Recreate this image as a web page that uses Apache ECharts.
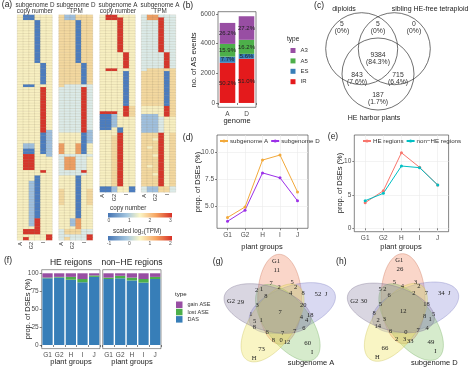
<!DOCTYPE html>
<html><head><meta charset="utf-8">
<script src="https://cdn.jsdelivr.net/npm/echarts@6/dist/echarts.min.js"></script>
<style>html,body{margin:0;padding:0;background:#fff}#c{width:474px;height:374px}</style>
</head><body><div id="c"></div>
<script>
// ---------- DATA ----------
const hmCols = ['A','G1','G2','H','I','J'];
// level codes: 0 blue .. 3 pale yellow .. 6 red
const hmDcopy = [
"300333","300333",
"333033","333033","333033","333033","333033","333033","333033","333033",
"333033","333033","333033","333033","333033","333033","333033","333033",
"333303","333303","333303","333303","333303","333303","333303","333303",
"300333",
"333363","333363","333363","333363","333363","333363","333363","333363",
"333363","333363","333363","333363","333363","333363","333363","333363",
"333361","333301","333301","333301","333301",
"311301","311301","300301","300301",
"366331","366333","366333","366333","366333","366333",
"333363","333333","333033","333033",
"331033","331033","331033","331033","331033","331033","331033",
"331033","331033","331033","331033","331033","331033","331033",
"331633","331633","331633","333633",
"366633","366633","333336","363336"];
const hmDtpm = [
"411444","411444",
"444044","444044","444044","444044","444044","444044","444044","444044",
"444044","444044","444044","444044","444044","444044","444044","444044",
"444404","444404","444404","444404","444404","444404","444404","444404",
"422222",
"222262","222262","222262","222262","222262","222262","222262","222262",
"222262","222262","222262","222262","222262","222262","222262","222262",
"222261","333301","333301","333301","333301",
"533503","533503","533503","533503",
"222222","255223","255223","255223","255223","255223",
"222263","222223",
"333033","333033","333033","333033","333033",
"433034","433034","433034","433034","433034","433034",
"333033","333033","333033","333033","333033",
"331533","331533","331533","333533",
"244422","244422","222226","242226"];
const hmAcopy = [
"366333","366633",
"333633","333633","333633","333633","333633","333633",
"333633","333633","333633","333633","333633","333633",
"333363","333363","333363","333363","333363","333363",
"366333",
"333303","333303","333303","333303","333303","333303","333303",
"333303","333303","333303","333303","333303","333303",
"333364","333364","666364","001364",
"001333","001333","001333","001333",
"003033","333033","333633",
"334633","334633","334633","334633","334633","334633","334633",
"334633","334633","334633","334633","334633","334633","334633",
"334633","334633","334633","334633","334633",
"001330","001330"];
const hmAtpm = [
"255222","255622",
"222622","222622","222622","222622","222622","222622",
"222622","222622","222622","222622","222622","222622",
"222262","222262","222262","222262","222262","222262",
"244444",
"444404","444404","444404","444404","444404","444404","444404",
"444404","444404","444404","444404","444404","444404",
"333364","333364","333364","111364",
"111233","111233","111233","111233","111233","111233",
"444634","444634","443634","444634","444634","434634","444634",
"444634","443634","444634","444634","444634","434634","444634",
"444634","443634","444634","444634","444634","444634",
"211442","211442"];

const genomes = ['A','D'];
const asTypes = ['A3','A5','ES','IR'];
const asCountA = [1415, 859, 416, 2711];
const asCountD = [1591, 948, 328, 2984];
const asPctA = ['26.2%','15.9%','7.7%','50.2%'];
const asPctD = ['27.2%','16.2%','5.6%','51.0%'];
const asTicks = [0, 2000, 4000, 6000];

const vennSets = ['diploids','sibling HE-free tetraploid','HE harbor plants'];
const vennCounts = [5, 5, 0, 9384, 843, 715, 187];
const vennPcts = ['0%','0%','0%','84.3%','7.6%','6.4%','1.7%'];

const plantGroups = ['G1','G2','H','I','J'];
const dsesSubA = [3.95, 4.93, 9.29, 9.76, 6.33];
const dsesSubD = [3.6, 4.63, 8.1, 7.64, 5.5];
const dsesHE = [3.82, 5.6, 11.28, 9.1, 6.46];
const dsesNonHE = [4.12, 5.22, 9.3, 9.05, 6.46];
const dTicks = [5, 7.5, 10];
const eTicks = [0, 5, 10];

const fTypes = ['gain ASE','lost ASE','DAS'];
const heDAS = [93, 94, 91, 87.5, 95];
const heLost = [1, 1, 4, 4.5, 2];
const heGain = [6, 5, 5, 8, 3];
const nonDAS = [92, 93, 90, 87, 92];
const nonLost = [2, 3.5, 4, 5, 3];
const nonGain = [6, 3.5, 6, 8, 5];
const fTicks = [0, 25, 50, 75, 100];

const venn5Sets = ['G1','J','I','H','G2'];
const venn5OuterG = [11, 52, 60, 73, 29];
const venn5OuterH = [26, 34, 49, 66, 30];
const venn5InnerG = [7,2,5,2,2,1,8,4,8,20,3,7,4,18,4,1,5,1,8,6,7,7,6,8,0,12];
const venn5InnerH = [5,4,3,2,5,2,6,2,7,18,5,12,8,5,1,8,2,3,14,6,0,7,4,2,3,33];

// ---------- RENDER ----------
const SANS = '"Liberation Sans", Arial, sans-serif';
const SERIF = '"Liberation Serif", "Times New Roman", serif';
const chart = echarts.init(document.getElementById('c'), null, {renderer:'canvas'});
const gText = (x, y, text, o) => ({type:'text', x, y, silent:true, z:10,
  style:Object.assign({text, fontSize:7, fontFamily:SANS, fill:'#222', textAlign:'center', textVerticalAlign:'middle'}, o||{})});
const levelColors = ['#4a7cc0','#9fc0df','#dcebe9','#f8f0c2','#f4d9a0','#ee9e63','#d7342a'];

function hmData(rows){ const d=[]; rows.forEach((s,r)=>{ for(let c=0;c<s.length;c++) d.push([c, r, +s[c]]); }); return d; }

const hmGrids = [
  {left:17.5, top:15, width:34.5, height:225},
  {left:59, top:15, width:33.5, height:225},
  {left:100, top:15, width:35, height:177},
  {left:141.5, top:15, width:34, height:177}
];
const hmSets = [hmDcopy, hmDtpm, hmAcopy, hmAtpm];
const grids = hmGrids.concat([
  {left:218, top:11.7, width:38, height:95.6, show:true, borderColor:'#333', borderWidth:0.6, backgroundColor:'transparent'},
  {left:217, top:135, width:91, height:93.3, show:true, borderColor:'#333', borderWidth:0.6, backgroundColor:'transparent'},
  {left:354.3, top:135, width:94.3, height:96.7, show:true, borderColor:'#333', borderWidth:0.6, backgroundColor:'transparent'},
  {left:41.7, top:269.7, width:58.3, height:78.9, show:true, borderColor:'#555', borderWidth:0.6, backgroundColor:'transparent'},
  {left:102.7, top:269.7, width:58.3, height:78.9, show:true, borderColor:'#555', borderWidth:0.6, backgroundColor:'transparent'}
]).map(g => Object.assign({containLabel:false, outerBoundsMode:'none'}, g));

const labStyle = {fontSize:6.5, color:'#4d4d4d', fontFamily:SANS};
const tickStyle = {lineStyle:{color:'#333', width:0.6}, length:2};
const xAxes = [], yAxes = [];
hmSets.forEach((rows, i) => {
  xAxes.push({gridIndex:i, type:'category', data:hmCols, axisLine:{show:false}, axisTick:{show:false},
    axisLabel:{rotate:90, fontSize:5.5, color:'#333', margin:2, fontFamily:SANS}, splitLine:{show:false}});
  yAxes.push({gridIndex:i, type:'category', data:rows.map((_,k)=>String(k)), inverse:true, show:false});
});
// (b)
xAxes.push({gridIndex:4, type:'category', data:genomes, axisLine:{show:false}, axisTick:Object.assign({show:true}, tickStyle),
  axisLabel:Object.assign({margin:3}, labStyle)});
yAxes.push({gridIndex:4, type:'value', min:-293, max:6158, axisLine:{show:false},
  axisTick:Object.assign({show:true, customValues:asTicks}, tickStyle),
  axisLabel:Object.assign({customValues:asTicks, formatter:v=>String(Math.round(v)), margin:3}, labStyle), splitLine:{show:false}});
// (d)
const xGroupAxis = gi => ({gridIndex:gi, type:'value', min:0.4, max:5.6, axisLine:{show:false},
  axisTick:Object.assign({show:true, customValues:[1,2,3,4,5]}, tickStyle),
  axisLabel:Object.assign({customValues:[1,2,3,4,5], formatter:v=>plantGroups[Math.round(v)-1], margin:3}, labStyle),
  splitLine:{show:true, lineStyle:{color:'#ebebeb', width:0.6}}});
xAxes.push(xGroupAxis(5));
yAxes.push({gridIndex:5, type:'value', min:2.95, max:11.62, axisLine:{show:false},
  axisTick:Object.assign({show:true, customValues:dTicks}, tickStyle),
  axisLabel:Object.assign({customValues:dTicks, formatter:v=>v.toFixed(1), margin:3}, labStyle),
  splitLine:{show:true, lineStyle:{color:'#ebebeb', width:0.6}}});
// (e)
xAxes.push(xGroupAxis(6));
yAxes.push({gridIndex:6, type:'value', min:-0.51, max:13.93, axisLine:{show:false},
  axisTick:Object.assign({show:true, customValues:eTicks}, tickStyle),
  axisLabel:Object.assign({customValues:eTicks, formatter:v=>String(Math.round(v)), margin:3}, labStyle),
  splitLine:{show:true, lineStyle:{color:'#ebebeb', width:0.6}}});
// (f)
[7,8].forEach((gi, k) => {
  xAxes.push({gridIndex:gi, type:'category', data:plantGroups, axisLine:{show:false}, axisTick:Object.assign({show:true}, tickStyle),
    axisLabel:Object.assign({margin:3}, labStyle)});
  yAxes.push({gridIndex:gi, type:'value', min:-5, max:105, axisLine:{show:false},
    axisTick:Object.assign({show:k===0, customValues:fTicks}, tickStyle),
    axisLabel:Object.assign({show:k===0, customValues:fTicks, formatter:v=>String(Math.round(v)), margin:3}, labStyle), splitLine:{show:false}});
});

const series = [];
hmSets.forEach((rows, i) => series.push({type:'heatmap', xAxisIndex:i, yAxisIndex:i, data:hmData(rows),
  itemStyle:{borderColor:'rgba(150,140,110,0.35)', borderWidth:0.4}, emphasis:{disabled:true}, silent:true}));
const asColors = {A3:'#984ea3', A5:'#4daf4a', ES:'#377eb8', IR:'#e41a1c'};
[3,2,1,0].forEach(k => series.push({type:'bar', name:asTypes[k], xAxisIndex:4, yAxisIndex:4, stack:'b',
  data:[asCountA[k], asCountD[k]], barCategoryGap:'18%', itemStyle:{color:asColors[asTypes[k]]},
  label:{show:true, position:'inside', fontSize:6, color:'#222', fontFamily:SANS,
    formatter:p => (p.dataIndex===0 ? asPctA[k] : asPctD[k])}}));
const lineS = (name, gi, vals, color) => ({type:'line', name, xAxisIndex:gi, yAxisIndex:gi,
  data:vals.map((v,i)=>[i+1, v]), symbol:'circle', symbolSize:3, color, lineStyle:{width:1, color}, itemStyle:{color}});
series.push(lineS('subgenome A', 5, dsesSubA, '#f2a93b'));
series.push(lineS('subgenome D', 5, dsesSubD, '#9b30e8'));
series.push(lineS('HE regions', 6, dsesHE, '#f8766d'));
series.push(lineS('non\u2212HE regions', 6, dsesNonHE, '#00bfc4'));
const fColors = {'gain ASE':'#984ea3', 'lost ASE':'#4daf4a', 'DAS':'#377eb8'};
[[7, heDAS, heLost, heGain], [8, nonDAS, nonLost, nonGain]].forEach(([gi, das, lost, gain]) => {
  [['DAS', das], ['lost ASE', lost], ['gain ASE', gain]].forEach(([nm, vals]) => series.push({type:'bar', name:nm,
    xAxisIndex:gi, yAxisIndex:gi, stack:'f'+gi, data:vals, barCategoryGap:'12%', itemStyle:{color:fColors[nm]}}));
});

// graphic
const G = [];
G.push(gText(7, 5, '(a)', {fontSize:8.5}));
[[35,'subgenome D','copy number'],[76,'subgenome D','TPM'],[118,'subgenome A','copy number'],[160,'subgenome A','TPM']].forEach(([x,a,b]) => {
  G.push(gText(x, 5, a, {fontSize:6.3, fill:'#333'}));
  G.push(gText(x, 11.5, b, {fontSize:6.3, fill:'#333'}));
});
const grad = stops => ({type:'linear', x:0, y:0, x2:1, y2:0, colorStops:stops});
const rdylbu = [{offset:0,color:'#4575b4'},{offset:0.3,color:'#a6c8e0'},{offset:0.5,color:'#fbf6c6'},{offset:0.75,color:'#f6a562'},{offset:1,color:'#d73027'}];
G.push(gText(110, 208.3, 'copy number', {fontSize:6.3, textAlign:'left', fill:'#333'}));
G.push({type:'rect', shape:{x:108, y:213, width:64, height:4.6}, style:{fill:grad(rdylbu)}, silent:true});
['0','1','2','3'].forEach((t,i) => G.push(gText(109 + i*20.5, 220.5, t, {fontSize:5, fill:'#555'})));
G.push(gText(113, 231.7, 'scaled log\u2082(TPM)', {fontSize:6.3, textAlign:'left', fill:'#333'}));
G.push({type:'rect', shape:{x:108, y:236, width:64, height:4.6}, style:{fill:grad(rdylbu)}, silent:true});
['-1','0','1','2'].forEach((t,i) => G.push(gText(109 + i*20.5, 243.5, t, {fontSize:5, fill:'#555'})));

// (b)
G.push(gText(188, 6, '(b)', {fontSize:8.5}));
G.push(gText(194, 60, 'no. of AS events', {fontSize:7.5}));
G[G.length-1].rotation = Math.PI/2;
G.push(gText(237, 121, 'genome', {fontSize:7.5}));
G.push(gText(287, 39, 'type', {fontSize:6.5, textAlign:'left'}));
// (c)
G.push(gText(319, 6, '(c)', {fontSize:8.5}));
[[361.7,48.7],[394.3,48.7],[378,74]].forEach(([cx,cy]) => G.push({type:'circle', shape:{cx, cy, r:36}, silent:true,
  style:{fill:'none', stroke:'#333', lineWidth:0.7}}));
G.push(gText(344, 9, vennSets[0], {fontSize:7}));
G.push(gText(430, 9, vennSets[1], {fontSize:7}));
G.push(gText(374, 118.5, vennSets[2], {fontSize:7}));
[[342,28],[378,28],[414,28],[378,58.5],[357,78.5],[398,78.5],[378,98.5]].forEach(([x,y],i) =>
  G.push(gText(x, y, vennCounts[i] + '\n(' + vennPcts[i] + ')', {fontSize:6.8, lineHeight:7, fill:'#333'})));
// (d),(e)
G.push(gText(188, 138, '(d)', {fontSize:8.5}));
G.push(gText(198, 182, 'prop. of DSEs (%)', {fontSize:7.5})); G[G.length-1].rotation = Math.PI/2;
G.push(gText(262, 247, 'plant groups', {fontSize:7.5}));
G.push(gText(333, 137, '(e)', {fontSize:8.5}));
G.push(gText(340, 183, 'prop. of DSEs (%)', {fontSize:7.5})); G[G.length-1].rotation = Math.PI/2;
G.push(gText(401, 247, 'plant groups', {fontSize:7.5}));
// (f)
G.push(gText(8, 261, '(f)', {fontSize:8.5}));
G.push(gText(71, 263, 'HE reigons', {fontSize:8.5}));
G.push(gText(132, 263, 'non\u2212HE regions', {fontSize:8.5}));
G.push(gText(28, 309, 'prop. of DSEs (%)', {fontSize:7.5})); G[G.length-1].rotation = Math.PI/2;
G.push(gText(71, 362, 'plant groups', {fontSize:7.5}));
G.push(gText(132, 362, 'plant groups', {fontSize:7.5}));
G.push(gText(175, 294.3, 'type', {fontSize:6.2, textAlign:'left'}));

// (g),(h) five-set Venn
function ellipsePts(cx, cy, a, b, deg){
  const t = deg*Math.PI/180, pts = [];
  for (let i=0;i<90;i++){ const u=i/90*2*Math.PI, x=a*Math.cos(u), y=b*Math.sin(u);
    pts.push([cx + x*Math.cos(t) - y*Math.sin(t), cy + x*Math.sin(t) + y*Math.cos(t)]); }
  return pts;
}
const ellDirs = [-91, -19, 53, 125, 197];
const ellFill = ['rgba(240,130,90,0.33)','rgba(140,140,215,0.33)','rgba(130,195,100,0.33)','rgba(240,230,100,0.38)','rgba(140,130,165,0.33)'];
const ellStroke = ['rgba(200,110,80,0.6)','rgba(120,120,190,0.6)','rgba(110,170,90,0.6)','rgba(200,190,80,0.6)','rgba(120,110,140,0.6)'];
const innerPos = [[-9,-29],[-1,-25],[12.2,-29.8],[15.5,-25.3],[-23.3,-22.4],[-18.5,-22.9],[-14.2,-16.5],[10.5,-18.9],[23,-18.9],
  [23.3,-7.5],[-23,-7.2],[0,0],[21.3,5],[30.3,2.7],[26.7,7.5],[-29.2,1.7],[-25.3,8.5],[-19,7.5],[-25.6,14.7],[-12.8,20],
  [2.5,20.8],[14.7,19],[23.8,16.3],[-6.6,27.5],[1.2,27.6],[7,29.6]];
const outerPos = [[-3.3,-42],[38,-18],[27.7,30.6],[-18.4,36.8],[-39.3,-10.3]];
const setLabPos = [[-4,-51],[46,-18.4],[32,39.5],[-26,46],[-49,-10.6]];
function venn5(C, outer, inner, letter, title){
  ellDirs.forEach((d,k) => {
    const r = d*Math.PI/180;
    G.push({type:'polygon', silent:true, shape:{points:ellipsePts(C[0]+13*Math.cos(r), C[1]+13*Math.sin(r), 45, 22, d)},
      style:{fill:ellFill[k], stroke:ellStroke[k], lineWidth:0.6}});
  });
  inner.forEach((v,i) => G.push(gText(C[0]+innerPos[i][0], C[1]+innerPos[i][1], String(v), {fontSize:6.5, fontFamily:SERIF})));
  outer.forEach((v,i) => G.push(gText(C[0]+outerPos[i][0], C[1]+outerPos[i][1], String(v), {fontSize:6.8, fontFamily:SERIF})));
  venn5Sets.forEach((s,i) => G.push(gText(C[0]+setLabPos[i][0], C[1]+setLabPos[i][1], s, {fontSize:6.5, fontFamily:SERIF})));
  G.push(gText(C[0]-62, 262, letter, {fontSize:8.5}));
  G.push(gText(C[0]+31, 363, title, {fontSize:7.5}));
}
venn5([280, 312.3], venn5OuterG, venn5InnerG, '(g)', 'subgenome A');
venn5([403.3, 311.7], venn5OuterH, venn5InnerH, '(h)', 'subgenome D');

const option = {
  animation:false,
  backgroundColor:'#fff',
  textStyle:{fontFamily:SANS},
  grid:grids, xAxis:xAxes, yAxis:yAxes,
  visualMap:{type:'piecewise', show:false, seriesIndex:[0,1,2,3], dimension:2,
    pieces:levelColors.map((c,i)=>({value:i, color:c}))},
  legend:[
    {data:asTypes, orient:'vertical', left:290.5, top:47.5, itemWidth:5, itemHeight:5, itemGap:4.4, icon:'rect',
      textStyle:{fontSize:6, color:'#333', fontFamily:SANS}, selectedMode:false, padding:0},
    {data:['subgenome A','subgenome D'], left:219, top:138, itemWidth:8, itemHeight:4, itemGap:2,
      textStyle:{fontSize:6.2, color:'#333', fontFamily:SANS, padding:[0,0,0,-3]}, selectedMode:false, padding:0},
    {data:['HE regions','non\u2212HE regions'], left:362, top:138, itemWidth:8, itemHeight:4, itemGap:2,
      textStyle:{fontSize:6.2, color:'#333', fontFamily:SANS, padding:[0,0,0,-3]}, selectedMode:false, padding:0},
    {data:fTypes, orient:'vertical', left:176, top:301.5, itemWidth:6.5, itemHeight:6.5, itemGap:0.8, icon:'rect',
      textStyle:{fontSize:5.5, color:'#333', fontFamily:SANS}, selectedMode:false, padding:0}
  ],
  series,
  graphic:{elements:G}
};
chart.setOption(option);
</script></body></html>
